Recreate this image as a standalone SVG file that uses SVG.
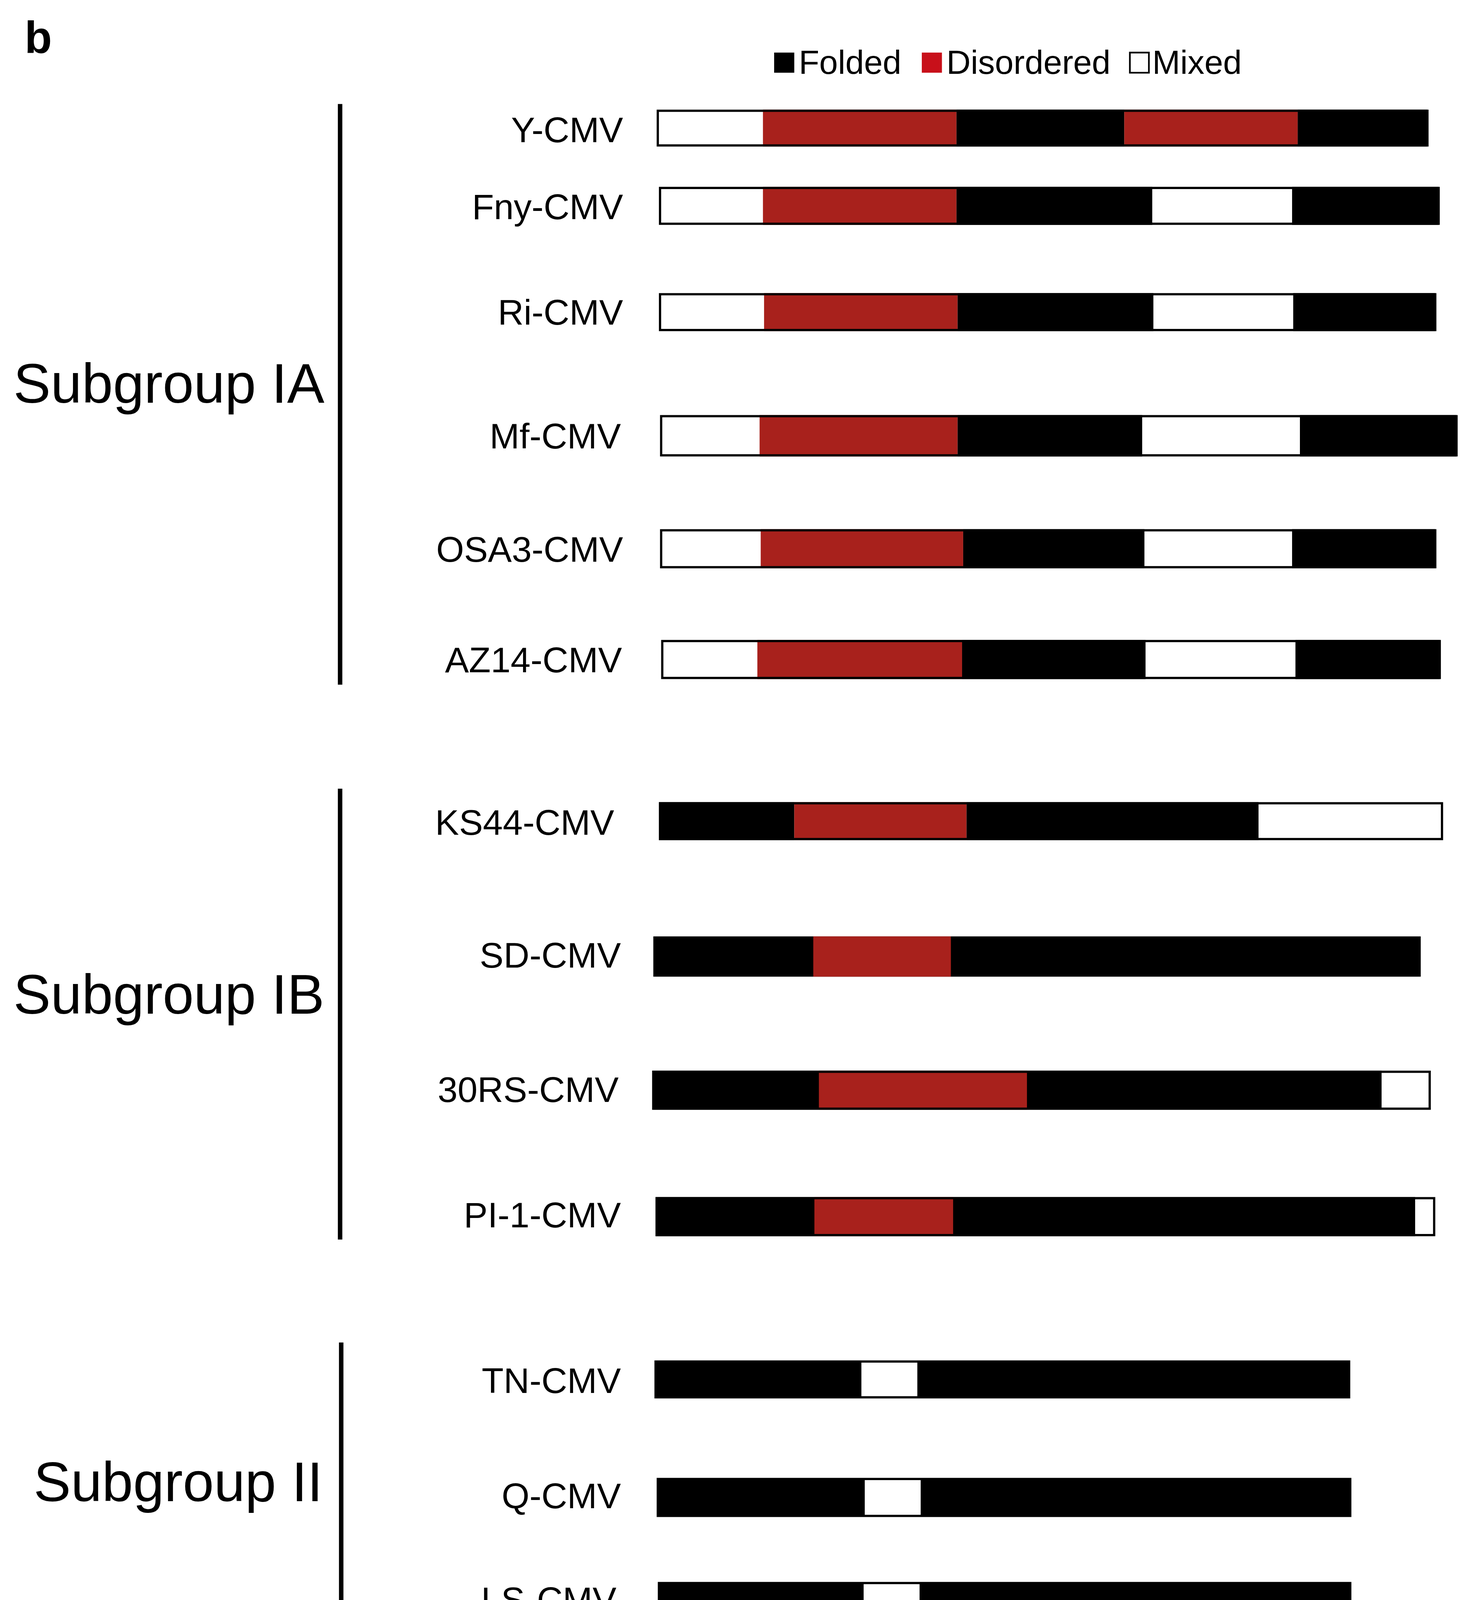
<svg xmlns="http://www.w3.org/2000/svg" width="3789" height="4504" viewBox="0 0 3789 4504">
<style>
text{font-family:"Liberation Sans",Arial,sans-serif;fill:#000}
.lab{font-size:32px;text-anchor:end}
.grp{font-size:50px}
.leg{font-size:30px}
.ax{font-size:26px;text-anchor:middle}
.k{fill:#000}.r{fill:#a8211c}.w{fill:#fff}
.ol{fill:none;stroke:#000;stroke-width:2}
.vl{stroke:#000;stroke-width:4}
.tk{stroke:#000;stroke-width:2}
</style>
<rect width="3789" height="4504" fill="#fff"/>
<g transform="scale(2.864)">
<text x="22" y="47" style="font-size:40px;font-weight:bold">b</text>
<g id="legend">
<rect x="692" y="47" width="18" height="18" class="k"/><text x="714" y="66" class="leg">Folded</text>
<rect x="824" y="47" width="18" height="18" class="r" style="fill:#c8101a"/><text x="846" y="66" class="leg">Disordered</text>
<rect x="1010" y="47" width="17" height="18" class="w" stroke="#000" stroke-width="1.5"/><text x="1030" y="66" class="leg">Mixed</text>
</g>
<g id="groups">
<line x1="304" y1="93" x2="304" y2="612" class="vl"/>
<line x1="304" y1="705" x2="304" y2="1108" class="vl"/>
<line x1="305" y1="1200" x2="305" y2="1476" class="vl"/>
<text x="12" y="360" class="grp">Subgroup IA</text>
<text x="12" y="906" class="grp">Subgroup IB</text>
<text x="30" y="1342" class="grp">Subgroup II</text>
</g>
<g id="Y-CMV"><text x="557" y="127" class="lab">Y-CMV</text>
<rect x="682" y="98" width="173" height="33" class="r"/><rect x="855" y="98" width="150" height="33" class="k"/><rect x="1005" y="98" width="155" height="33" class="r"/><rect x="1160" y="98" width="116" height="33" class="k"/><rect x="588" y="99" width="688" height="31" class="ol"/></g>
<g id="Fny-CMV"><text x="557" y="196" class="lab">Fny-CMV</text>
<rect x="682" y="167" width="173" height="34" class="r"/><rect x="855" y="167" width="175" height="34" class="k"/><rect x="1155" y="167" width="131" height="34" class="k"/><rect x="590" y="168" width="696" height="32" class="ol"/></g>
<g id="Ri-CMV"><text x="557" y="290" class="lab">Ri-CMV</text>
<rect x="683" y="262" width="173" height="34" class="r"/><rect x="856" y="262" width="175" height="34" class="k"/><rect x="1156" y="262" width="127" height="34" class="k"/><rect x="590" y="263" width="693" height="32" class="ol"/></g>
<g id="Mf-CMV"><text x="555" y="401" class="lab">Mf-CMV</text>
<rect x="679" y="371" width="177" height="37" class="r"/><rect x="856" y="371" width="165" height="37" class="k"/><rect x="1162" y="371" width="140" height="37" class="k"/><rect x="591" y="372" width="711" height="35" class="ol"/></g>
<g id="OSA3-CMV"><text x="557" y="502" class="lab">OSA3-CMV</text>
<rect x="680" y="473" width="181" height="35" class="r"/><rect x="861" y="473" width="162" height="35" class="k"/><rect x="1155" y="473" width="128" height="35" class="k"/><rect x="591" y="474" width="692" height="33" class="ol"/></g>
<g id="AZ14-CMV"><text x="556" y="601" class="lab">AZ14-CMV</text>
<rect x="677" y="572" width="183" height="35" class="r"/><rect x="860" y="572" width="164" height="35" class="k"/><rect x="1158" y="572" width="129" height="35" class="k"/><rect x="592" y="573" width="695" height="33" class="ol"/></g>
<g id="KS44-CMV"><text x="549" y="746" class="lab">KS44-CMV</text>
<rect x="589" y="717" width="121" height="34" class="k"/><rect x="710" y="717" width="154" height="34" class="r"/><rect x="864" y="717" width="261" height="34" class="k"/><rect x="590" y="718" width="699" height="32" class="ol"/></g>
<g id="SD-CMV"><text x="555" y="865" class="lab">SD-CMV</text>
<rect x="584" y="837" width="686" height="36" class="k"/><rect x="727" y="837" width="123" height="36" class="r"/></g>
<g id="30RS-CMV"><text x="553" y="985" class="lab">30RS-CMV</text>
<rect x="583" y="957" width="652" height="35" class="k"/><rect x="732" y="957" width="186" height="35" class="r"/><rect x="584" y="958" width="694" height="33" class="ol"/></g>
<g id="PI-1-CMV"><text x="555" y="1097" class="lab">PI-1-CMV</text>
<rect x="586" y="1070" width="679" height="35" class="k"/><rect x="728" y="1070" width="124" height="35" class="r"/><rect x="587" y="1071" width="695" height="33" class="ol"/></g>
<g id="TN-CMV"><text x="555" y="1245" class="lab">TN-CMV</text>
<rect x="585" y="1216" width="622" height="34" class="k"/><rect x="770" y="1218" width="50" height="30" class="w"/></g>
<g id="Q-CMV"><text x="555" y="1348" class="lab">Q-CMV</text>
<rect x="587" y="1321" width="621" height="35" class="k"/><rect x="773" y="1323" width="50" height="31" class="w"/></g>
<g id="LS-CMV"><text x="551" y="1441" class="lab">LS-CMV</text>
<rect x="588" y="1414" width="620" height="35" class="k"/><rect x="772" y="1416" width="50" height="31" class="w"/></g>
<g id="axis">
<line x1="583" y1="1468" x2="583" y2="1490" class="tk"/><line x1="710" y1="1470" x2="710" y2="1490" class="tk"/><line x1="833" y1="1468" x2="833" y2="1490" class="tk"/><line x1="957" y1="1468" x2="957" y2="1490" class="tk"/><line x1="1078" y1="1468" x2="1078" y2="1490" class="tk"/><line x1="1200" y1="1468" x2="1200" y2="1490" class="tk"/>
<text x="583" y="1517" class="ax">0</text><text x="705" y="1521" class="ax">20</text><text x="836" y="1521" class="ax">40</text><text x="957" y="1517" class="ax">60</text><text x="1078" y="1517" class="ax">80</text><text x="1202" y="1517" class="ax">100</text>
<text x="892" y="1554" class="ax">Position</text>
</g>
</g>
</svg>
